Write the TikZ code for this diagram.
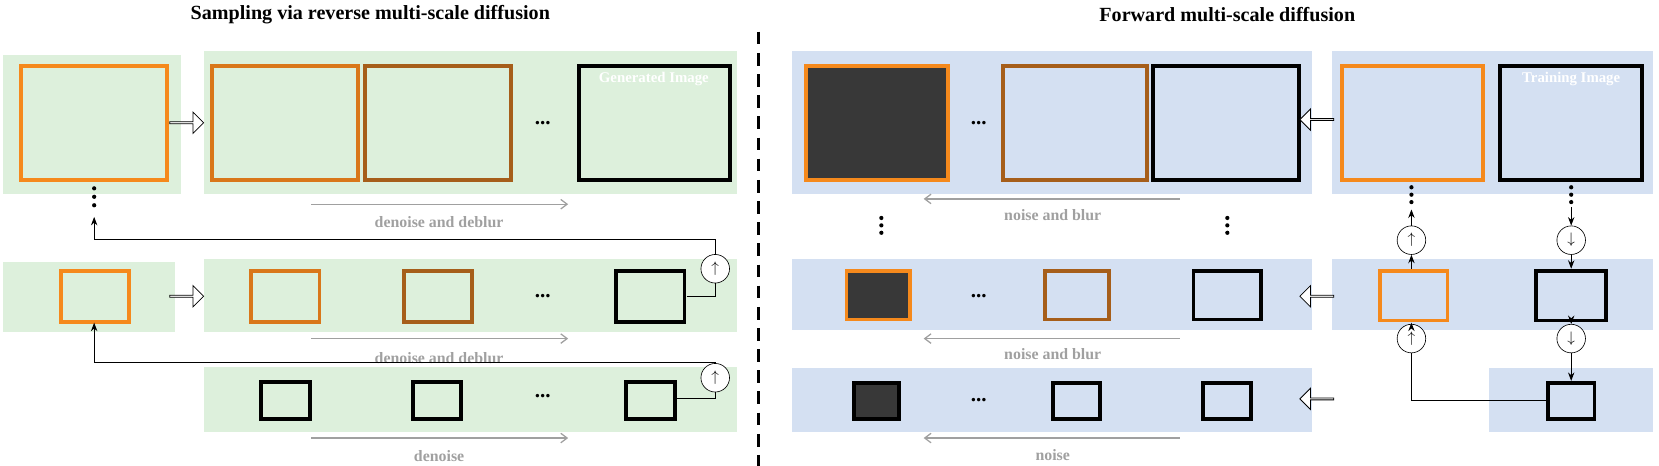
\documentclass[tikz,border=0pt]{standalone}
\usepackage{fontspec}
\setmainfont{Liberation Serif}
\usetikzlibrary{shapes.arrows,arrows.meta}
\definecolor{gbg}{HTML}{DDF0DC}
\definecolor{bbg}{HTML}{D4E0F2}
\definecolor{or1}{HTML}{F5891C}
\definecolor{or2}{HTML}{D9771A}
\definecolor{or3}{HTML}{A65E1A}
\definecolor{gtx}{HTML}{A0A0A0}
\definecolor{dk}{HTML}{383838}
\begin{document}
\begin{tikzpicture}[x=1pt,y=-1pt,
  gb/.style={fill=gbg,draw=none},
  bb/.style={fill=bbg,draw=none},
  img/.style={line width=3.6pt},
  lab/.style={text=gtx,font=\bfseries\fontsize{15}{15}\selectfont},
  garr/.style={draw=gtx,line width=1.2pt,-{Straight Barb[length=6pt,width=9pt]}},
  harrow/.style={single arrow,draw=black,fill=white,line width=0.8pt,minimum height=32pt,minimum width=20pt,single arrow head extend=4pt,inner sep=0pt},
  op/.style={circle,draw=black,fill=white,line width=0.6pt,minimum size=27pt,inner sep=0pt,font=\fontsize{14}{14}\selectfont},
  con/.style={line width=0.8pt,-{Stealth[length=8pt,width=6pt]}},
  dots/.style={font=\bfseries\fontsize{20}{20}\selectfont,inner sep=0pt},
  vd/.style={fill=black,circle,inner sep=0pt,minimum size=4pt}]
\useasboundingbox (0,0) rectangle (1568,440);
% titles and divider
\node[font=\bfseries\fontsize{19}{19}\selectfont] (t1) at (350,14) {Sampling via reverse multi-scale diffusion};
\node[font=\bfseries\fontsize{19}{19}\selectfont] (t2) at (1160,14) {Forward multi-scale diffusion};
\draw[line width=3pt,dash pattern=on 12pt off 8pt] (717,30) -- (717,440);

% ---------- left ----------
\fill[gbg] (3,52) rectangle (171,183);
\fill[gbg] (193,48) rectangle (697,183);
\fill[gbg] (3,248) rectangle (165,314);
\fill[gbg] (193,245) rectangle (697,314);
\fill[gbg] (193,347) rectangle (697,408);

\draw[img,or1] (20,62) rectangle (158,170); \coordinate (a0) at (89,170);
\draw[img,or2] (200,62) rectangle (338,170);
\draw[img,or3] (345,62) rectangle (483,170);
\node[dots] (ad) at (513,116) {...};
\draw[img,black] (547,62) rectangle (690,170);
\node[text=white,font=\bfseries\fontsize{14}{14}\selectfont,anchor=north] (gi) at (618,65) {Generated Image};
\node[harrow] (ha1) at (176,116) {};
\draw[garr] (294,193) -- (537,193);
\node[lab] (l1) at (415,210) {denoise and deblur};
\node[vd] (v1) at (89,178) {}; \node[vd] (v2) at (89,186) {}; \node[vd] (v3) at (89,194) {};

\draw[img,or1] (58,256) rectangle (122,304); \coordinate (b0) at (89,305);
\draw[img,or2] (237,256) rectangle (302,304);
\draw[img,or3] (382,256) rectangle (446,304);
\node[dots] (bd) at (513,280) {...};
\draw[img,black] (582,256) rectangle (647,304); \coordinate (b3) at (649,280);
\node[harrow] (ha2) at (176,280) {};
\draw[garr] (294,320) -- (537,320);
\node[lab] (l2) at (415,338) {denoise and deblur};

\draw[img,black] (247,361) rectangle (293,396);
\draw[img,black] (390,361) rectangle (436,396);
\node[dots] (cd) at (513,374) {...};
\draw[img,black] (592,361) rectangle (638,396); \coordinate (c3) at (640,377);
\draw[garr] (294,414) -- (537,414);
\node[lab] (l3) at (415,431) {denoise};

\node[op] (u1) at (676,254) {$\uparrow$};
\node[op] (u2) at (676,357) {$\uparrow$};
\draw[line width=0.8pt] (b3) -| (u1.south);
\draw[con] (u1.north) |- (89,226) -- (89,205);
\draw[line width=0.8pt] (c3) -| (u2.south);
\draw[con] (u2.north) |- (89,343) -- (b0);

% ---------- right ----------
\fill[bbg] (749,48) rectangle (1240,183);
\fill[bbg] (1259,48) rectangle (1562,183);
\fill[bbg] (749,245) rectangle (1240,312);
\fill[bbg] (1259,245) rectangle (1562,312);
\fill[bbg] (749,348) rectangle (1240,408);
\fill[bbg] (1407,348) rectangle (1562,408);

\draw[img,or1,fill=dk] (762,62) rectangle (896,170);
\node[dots] (dd) at (925,116) {...};
\draw[img,or3] (948,62) rectangle (1084,170);
\draw[img,black] (1090,62) rectangle (1228,170);
\draw[img,or1] (1268,62) rectangle (1402,170);
\draw[img,black] (1418,62) rectangle (1552,170);
\node[text=white,font=\bfseries\fontsize{14}{14}\selectfont,anchor=north] (ti) at (1485,65) {Training Image};
\node[harrow,shape border rotate=180] (hb1) at (1245,113) {};
\draw[garr] (1115,188) -- (873,188);
\node[lab] (m1) at (995,203) {noise and blur};
\node[vd] (w1) at (833,206) {}; \node[vd] (w2) at (833,213) {}; \node[vd] (w3) at (833,220) {};
\node[vd] (w4) at (1160,206) {}; \node[vd] (w5) at (1160,213) {}; \node[vd] (w6) at (1160,220) {};

\draw[img,or1,fill=dk] (800,256) rectangle (860,302);
\node[dots] (ed) at (925,280) {...};
\draw[img,or3] (988,256) rectangle (1048,302);
\draw[img,black] (1128,256) rectangle (1192,302);
\node[harrow,shape border rotate=180] (hb2) at (1245,280) {};
\draw[img,or1] (1304,256) rectangle (1368,303);
\draw[img,black] (1452,256) rectangle (1518,303);
\draw[garr] (1115,320) -- (873,320);
\node[lab] (m2) at (995,335) {noise and blur};

\draw[img,black,fill=dk] (807,362) rectangle (850,396);
\node[dots] (fd) at (925,378) {...};
\draw[img,black] (995,362) rectangle (1040,396);
\draw[img,black] (1137,362) rectangle (1182,396);
\node[harrow,shape border rotate=180] (hb3) at (1245,377) {};
\draw[img,black] (1463,362) rectangle (1507,396);
\draw[garr] (1115,414) -- (873,414);
\node[lab] (m3) at (995,430) {noise};

% pyramid connectors
\node[vd] (x1) at (1334,177) {}; \node[vd] (x2) at (1334,184) {}; \node[vd] (x3) at (1334,191) {};
\node[vd] (y1) at (1485,177) {}; \node[vd] (y2) at (1485,184) {}; \node[vd] (y3) at (1485,191) {};
\node[op] (p1) at (1334,227) {$\uparrow$};
\node[op] (q1) at (1485,227) {$\downarrow$};
\node[op] (p2) at (1334,320) {$\uparrow$};
\node[op] (q2) at (1485,320) {$\downarrow$};
\draw[con] (p1.north) -- (1334,198);
\draw[con] (1334,254) -- (p1.south);
\draw[con] (1485,196) -- (q1.north);
\draw[con] (q1.south) -- (1485,254);
\draw[con] (1485,305) -- (q2.north);
\draw[con] (q2.south) -- (1485,360);
\draw[con] (p2.north) -- (1334,305);
\draw[line width=0.8pt] (1461,378) -| (p2.south);
\end{tikzpicture}
\end{document}
